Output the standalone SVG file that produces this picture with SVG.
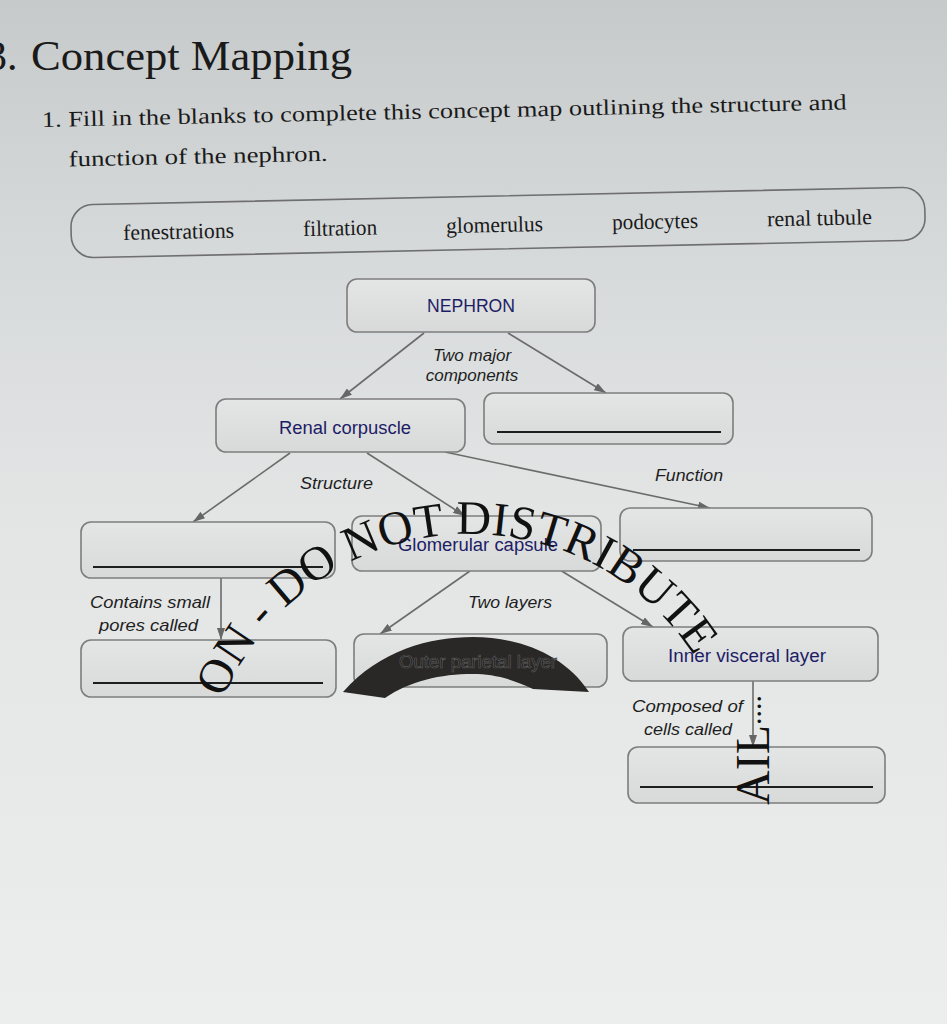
<svg xmlns="http://www.w3.org/2000/svg" width="947" height="1024" viewBox="0 0 947 1024">
<defs>
  <linearGradient id="bg" x1="0" y1="0" x2="0" y2="1">
    <stop offset="0" stop-color="#c6cacb"/>
    <stop offset="0.22" stop-color="#d5d8d9"/>
    <stop offset="0.5" stop-color="#e3e5e5"/>
    <stop offset="1" stop-color="#eceeee"/>
  </linearGradient>
  <linearGradient id="nodefill" x1="0" y1="0" x2="0" y2="1">
    <stop offset="0" stop-color="#e4e5e5"/>
    <stop offset="1" stop-color="#d8d9d9"/>
  </linearGradient>
  <marker id="ah" viewBox="0 0 12 8" refX="12" refY="4" markerWidth="12" markerHeight="8" markerUnits="userSpaceOnUse" orient="auto">
    <path d="M0,0 L12,4 L0,8 z" fill="#666"/>
  </marker>
  <path id="arc" d="M 203 801 A 267 267 0 0 1 737 801"/>
</defs>
<style>
  .node rect { fill:url(#nodefill); stroke:#7d7d7d; stroke-width:1.6; }
  .lbl { font-family:"Liberation Sans", Arial, sans-serif; font-size:18px; fill:#1d1d66; text-anchor:middle; }
  .blank { stroke:#1e1e1e; stroke-width:2; }
  .conn line { stroke:#6b6b6b; stroke-width:1.6; marker-end:url(#ah); }
  .edge { font-family:"Liberation Sans", Arial, sans-serif; font-style:italic; font-size:17px; fill:#1e1e1e; }
  .bank { font-family:"Liberation Serif", "Times New Roman", serif; font-size:22px; fill:#1a1a1a; }
  .head { font-family:"Liberation Serif", "Times New Roman", serif; fill:#1a1a1a; }
  .wm { font-family:"Liberation Serif", "Times New Roman", serif; font-size:48px; fill:#111; }
</style>

<rect x="0" y="0" width="947" height="1024" fill="url(#bg)"/>

<g id="header">
  <text class="head" x="-14" y="70" font-size="42">3.</text>
  <text class="head" x="31" y="70" font-size="42" textLength="321" lengthAdjust="spacingAndGlyphs">Concept Mapping</text>
  <g transform="rotate(-1.25 42 127)">
    <text class="head" x="42" y="127" font-size="22" textLength="805" lengthAdjust="spacingAndGlyphs">1. Fill in the blanks to complete this concept map outlining the structure and</text>
    <text class="head" x="68" y="167" font-size="22" textLength="259" lengthAdjust="spacingAndGlyphs">function of the nephron.</text>
  </g>
</g>

<g id="wordbank" transform="rotate(-1.21 498 222)">
  <rect x="71" y="196" width="854" height="53" rx="22" fill="none" stroke="#6f6f6f" stroke-width="1.6"/>
  <text class="bank" x="123" y="232" textLength="111" lengthAdjust="spacingAndGlyphs">fenestrations</text>
  <text class="bank" x="303" y="232" textLength="74" lengthAdjust="spacingAndGlyphs">filtration</text>
  <text class="bank" x="446" y="232" textLength="97" lengthAdjust="spacingAndGlyphs">glomerulus</text>
  <text class="bank" x="612" y="232" textLength="86" lengthAdjust="spacingAndGlyphs">podocytes</text>
  <text class="bank" x="767" y="232" textLength="105" lengthAdjust="spacingAndGlyphs">renal tubule</text>
</g>

<g id="connectors" class="conn">
  <line x1="424" y1="333" x2="340" y2="399"/>
  <line x1="508" y1="333" x2="606" y2="393"/>
  <line x1="290" y1="453" x2="193" y2="522"/>
  <line x1="367" y1="453" x2="465" y2="516"/>
  <line x1="445" y1="452" x2="710" y2="508"/>
  <line x1="221" y1="578" x2="221" y2="640"/>
  <line x1="470" y1="571" x2="380" y2="634"/>
  <line x1="560" y1="570" x2="653" y2="627"/>
  <line x1="753" y1="681" x2="753" y2="747"/>
</g>

<g id="edge-labels">
  <text class="edge" x="472" y="361" text-anchor="middle">Two major</text>
  <text class="edge" x="472" y="381" text-anchor="middle">components</text>
  <text class="edge" x="300" y="489" textLength="73" lengthAdjust="spacingAndGlyphs">Structure</text>
  <text class="edge" x="655" y="481" textLength="68" lengthAdjust="spacingAndGlyphs">Function</text>
  <text class="edge" x="90" y="608" textLength="120" lengthAdjust="spacingAndGlyphs">Contains small</text>
  <text class="edge" x="99" y="631" textLength="99" lengthAdjust="spacingAndGlyphs">pores called</text>
  <text class="edge" x="468" y="608" textLength="84" lengthAdjust="spacingAndGlyphs">Two layers</text>
  <text class="edge" x="632" y="712" textLength="111" lengthAdjust="spacingAndGlyphs">Composed of</text>
  <text class="edge" x="644" y="735" textLength="88" lengthAdjust="spacingAndGlyphs">cells called</text>
</g>

<g id="node-nephron" class="node">
  <rect x="347" y="279" width="248" height="53" rx="10"/>
  <text class="lbl" x="471" y="312" textLength="88" lengthAdjust="spacingAndGlyphs">NEPHRON</text>
</g>
<g id="node-renal-corpuscle" class="node">
  <rect x="216" y="399" width="249" height="53" rx="10"/>
  <text class="lbl" x="345" y="434" textLength="132" lengthAdjust="spacingAndGlyphs">Renal corpuscle</text>
</g>
<g id="node-component-blank" class="node">
  <rect x="484" y="393" width="249" height="51" rx="10"/>
  <line class="blank" x1="497" y1="432" x2="721" y2="432"/>
</g>
<g id="node-structure-blank" class="node">
  <rect x="81" y="522" width="254" height="56" rx="10"/>
  <line class="blank" x1="93" y1="567" x2="323" y2="567"/>
</g>
<g id="node-glomerular-capsule" class="node">
  <rect x="352" y="516" width="249" height="55" rx="10"/>
  <text class="lbl" x="478" y="551" textLength="160" lengthAdjust="spacingAndGlyphs">Glomerular capsule</text>
</g>
<g id="node-function-blank" class="node">
  <rect x="620" y="508" width="252" height="53" rx="10"/>
  <line class="blank" x1="633" y1="550" x2="860" y2="550"/>
</g>
<g id="node-pores-blank" class="node">
  <rect x="81" y="640" width="255" height="57" rx="10"/>
  <line class="blank" x1="93" y1="683" x2="323" y2="683"/>
</g>
<g id="node-outer-parietal" class="node">
  <rect x="354" y="634" width="253" height="53" rx="10"/>
  <path d="M343,692 C380,650 430,637 473,637 C520,637 565,655 589,692 L533,689 C510,678 492,674 473,674 C440,674 410,681 385,698 Z" fill="#2a2826"/>
  <text class="lbl" x="478" y="668" textLength="158" lengthAdjust="spacingAndGlyphs" style="fill:#161616;stroke:#5a5a5a;stroke-width:0.7">Outer parietal layer</text>
</g>
<g id="node-inner-visceral" class="node">
  <rect x="623" y="627" width="255" height="54" rx="10"/>
  <text class="lbl" x="747" y="662" textLength="158" lengthAdjust="spacingAndGlyphs">Inner visceral layer</text>
</g>
<g id="node-cells-blank" class="node">
  <rect x="628" y="747" width="257" height="56" rx="10"/>
  <line class="blank" x1="640" y1="787" x2="873" y2="787"/>
</g>

<g id="watermark">
  <text class="wm"><textPath href="#arc" startOffset="105">ON - DO NOT DISTRIBUTE</textPath></text>
  <text class="wm" font-size="38" transform="translate(769 805) rotate(-90)">AIL<tspan dy="-8" font-size="30">....</tspan></text>
</g>
</svg>
